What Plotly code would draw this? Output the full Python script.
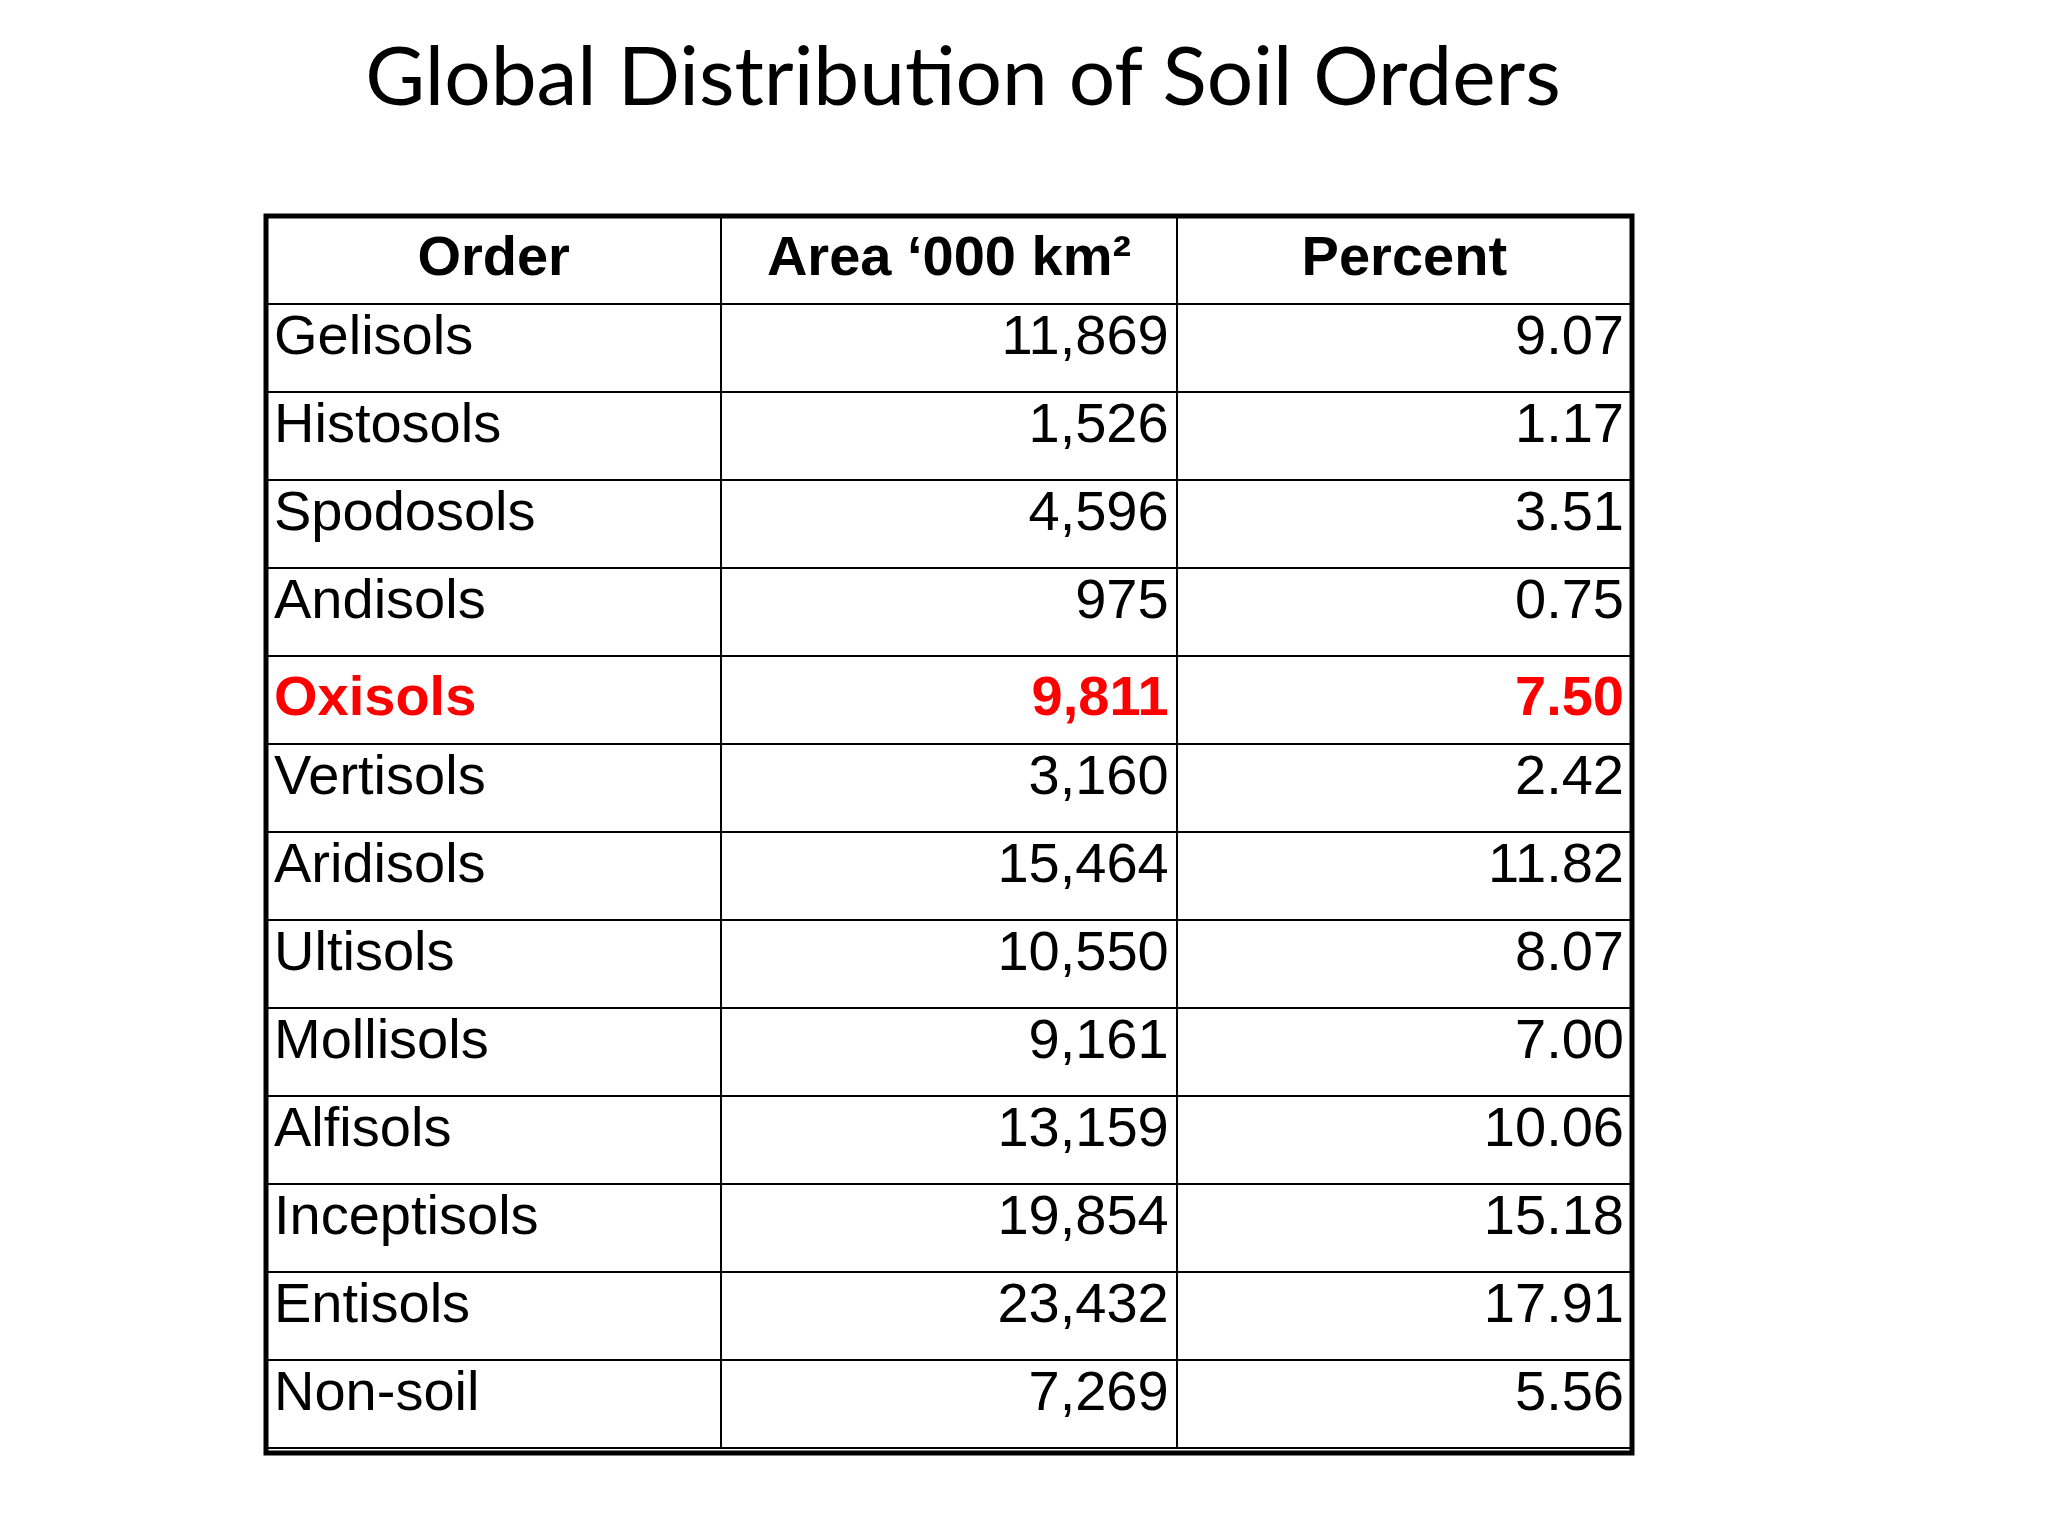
import plotly.graph_objects as go

orders = ["Gelisols", "Histosols", "Spodosols", "Andisols", "Oxisols", "Vertisols",
          "Aridisols", "Ultisols", "Mollisols", "Alfisols", "Inceptisols", "Entisols", "Non-soil"]
areas = [11869, 1526, 4596, 975, 9811, 3160, 15464, 10550, 9161, 13159, 19854, 23432, 7269]
percents = [9.07, 1.17, 3.51, 0.75, 7.50, 2.42, 11.82, 8.07, 7.00, 10.06, 15.18, 17.91, 5.56]
headers = ["Order", "Area \u2018000 km\u00b2", "Percent"]
highlight = "Oxisols"


def fmt(text, name):
    return f"<b>{text}</b>" if name == highlight else text


col_order = [fmt(o, o) for o in orders]
col_area = [fmt(f"{a:,}", o) for a, o in zip(areas, orders)]
col_pct = [fmt(f"{p:.2f}", o) for p, o in zip(percents, orders)]
colors = ["#ff0000" if o == highlight else "#000000" for o in orders]

x0, x1 = 258 / 2048, 1624 / 2048
y0, y1 = 1 - 1445 / 1536, 1 - 208 / 1536

fig = go.Figure(
    go.Table(
        domain=dict(x=[x0, x1], y=[y0, y1]),
        columnwidth=[1, 1, 1],
        header=dict(
            values=[f"<b>{h}</b>" for h in headers],
            align="center",
            height=88,
            fill_color="white",
            line=dict(color="black", width=2),
            font=dict(family="Liberation Sans, Arial", size=56, color="black"),
        ),
        cells=dict(
            values=[col_order, col_area, col_pct],
            align=["left", "right", "right"],
            height=88,
            fill_color="white",
            line=dict(color="black", width=2),
            font=dict(family="Liberation Sans, Arial", size=56, color=[colors] * 3),
        ),
    )
)

fig.add_shape(type="rect", xref="paper", yref="paper", x0=x0, x1=x1, y0=y0, y1=y1,
              line=dict(color="black", width=5))

fig.update_layout(
    width=2048,
    height=1536,
    margin=dict(l=0, r=0, t=0, b=0),
    paper_bgcolor="white",
    title=dict(
        text="Global Distribution of Soil Orders",
        x=955 / 2048,
        xanchor="center",
        y=1 - 68 / 1536,
        yanchor="middle",
        font=dict(family="Lato, Carlito, sans-serif", size=82, color="black"),
    ),
)

fig.write_html("out.html")
